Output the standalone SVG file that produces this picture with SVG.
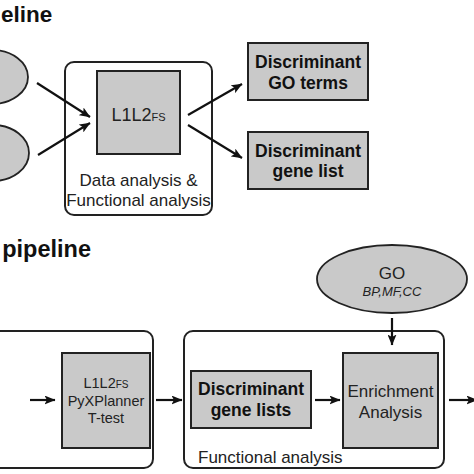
<svg xmlns="http://www.w3.org/2000/svg" width="474" height="474" viewBox="0 0 474 474">
<style>
.bg{fill:#ffffff}
.frame{fill:#ffffff;stroke:#222;stroke-width:2}
.gray{fill:#c9c9c9;stroke:#222;stroke-width:2}
.ell{fill:#c9c9c9;stroke:#222;stroke-width:1.8}
.t{font-family:"Liberation Sans",Arial,Helvetica,sans-serif;fill:#222;text-anchor:middle}
.reg{font-size:17px}
.sm{font-size:14.5px}
.b{font-weight:bold;font-size:17.5px;fill:#111}
.title{font-family:"Liberation Sans",Arial,sans-serif;font-weight:bold;font-size:23.5px;fill:#111;text-anchor:end}
.it{font-style:italic;font-size:13px}
.conn line{stroke:#111;stroke-width:2.2;marker-end:url(#ah)}
</style>
<defs>
<marker id="ah" viewBox="0 0 11 9" refX="10.5" refY="4.5" markerWidth="11" markerHeight="9" markerUnits="userSpaceOnUse" orient="auto">
<path d="M0,0 L11,4.5 L0,9 L2.5,4.5 z" fill="#111"/>
</marker>
</defs>
<rect class="bg" x="0" y="0" width="474" height="474"/>

<text class="title" x="1" y="22" style="text-anchor:start;font-size:22.5px">eline</text>
<text class="title" x="91" y="257">pipeline</text>

<g id="in1"><ellipse class="ell" cx="-8" cy="77" rx="36" ry="27"/></g>
<g id="in2"><ellipse class="ell" cx="-7" cy="153" rx="36" ry="28"/></g>

<g id="box1">
<rect class="frame" x="65" y="62" width="147" height="153" rx="9"/>
<text class="t reg" x="138.5" y="186">Data analysis &amp;</text>
<text class="t reg" x="138.5" y="206">Functional analysis</text>
</g>
<g id="l1l2top">
<rect class="gray" x="97" y="71" width="83" height="83"/>
<text class="t" x="138.5" y="121" style="font-size:18px">L1L2<tspan style="font-size:11px">FS</tspan></text>
</g>

<g id="goterms">
<rect class="gray" x="248" y="43" width="120" height="57"/>
<text class="t b" x="308" y="68">Discriminant</text>
<text class="t b" x="308" y="89">GO terms</text>
</g>
<g id="genelist">
<rect class="gray" x="248" y="132" width="120" height="57"/>
<text class="t b" x="308" y="157">Discriminant</text>
<text class="t b" x="308" y="177">gene list</text>
</g>

<g id="in3"><ellipse class="ell" cx="-12" cy="399" rx="37" ry="27"/></g>

<g id="box2">
<rect class="frame" x="-12" y="331" width="165" height="137" rx="9"/>
</g>
<g id="l1l2bottom">
<rect class="gray" x="62" y="353" width="88" height="95"/>
<text class="t sm" x="106" y="388">L1L2<tspan style="font-size:10px">FS</tspan></text>
<text class="t sm" x="106" y="406">PyXPlanner</text>
<text class="t sm" x="106" y="423">T-test</text>
</g>

<g id="box3">
<rect class="frame" x="184" y="331" width="260" height="137" rx="9"/>
<text class="t reg" x="198" y="463" style="text-anchor:start">Functional analysis</text>
</g>
<g id="genelists">
<rect class="gray" x="191" y="371" width="120" height="57"/>
<text class="t b" x="251" y="395">Discriminant</text>
<text class="t b" x="251" y="416">gene lists</text>
</g>
<g id="enrich">
<rect class="gray" x="343" y="353" width="95" height="95"/>
<text class="t reg" x="390.5" y="397">Enrichment</text>
<text class="t reg" x="390.5" y="418">Analysis</text>
</g>
<g id="go">
<ellipse class="ell" cx="392" cy="279" rx="75" ry="34"/>
<text class="t" x="392" y="279" style="font-size:17px">GO</text>
<text class="t it" x="392" y="296">BP,MF,CC</text>
</g>

<g id="connectors" class="conn">
<line x1="37" y1="83" x2="90" y2="117"/>
<line x1="38" y1="155" x2="90" y2="123"/>
<line x1="188" y1="115" x2="242" y2="84"/>
<line x1="188" y1="125" x2="242" y2="158"/>
<line x1="30" y1="400" x2="55" y2="400"/>
<line x1="156" y1="400" x2="182" y2="400"/>
<line x1="315" y1="400" x2="340" y2="400"/>
<line x1="392" y1="318" x2="392" y2="345"/>
<line x1="449" y1="400" x2="477" y2="400"/>
</g>
</svg>
